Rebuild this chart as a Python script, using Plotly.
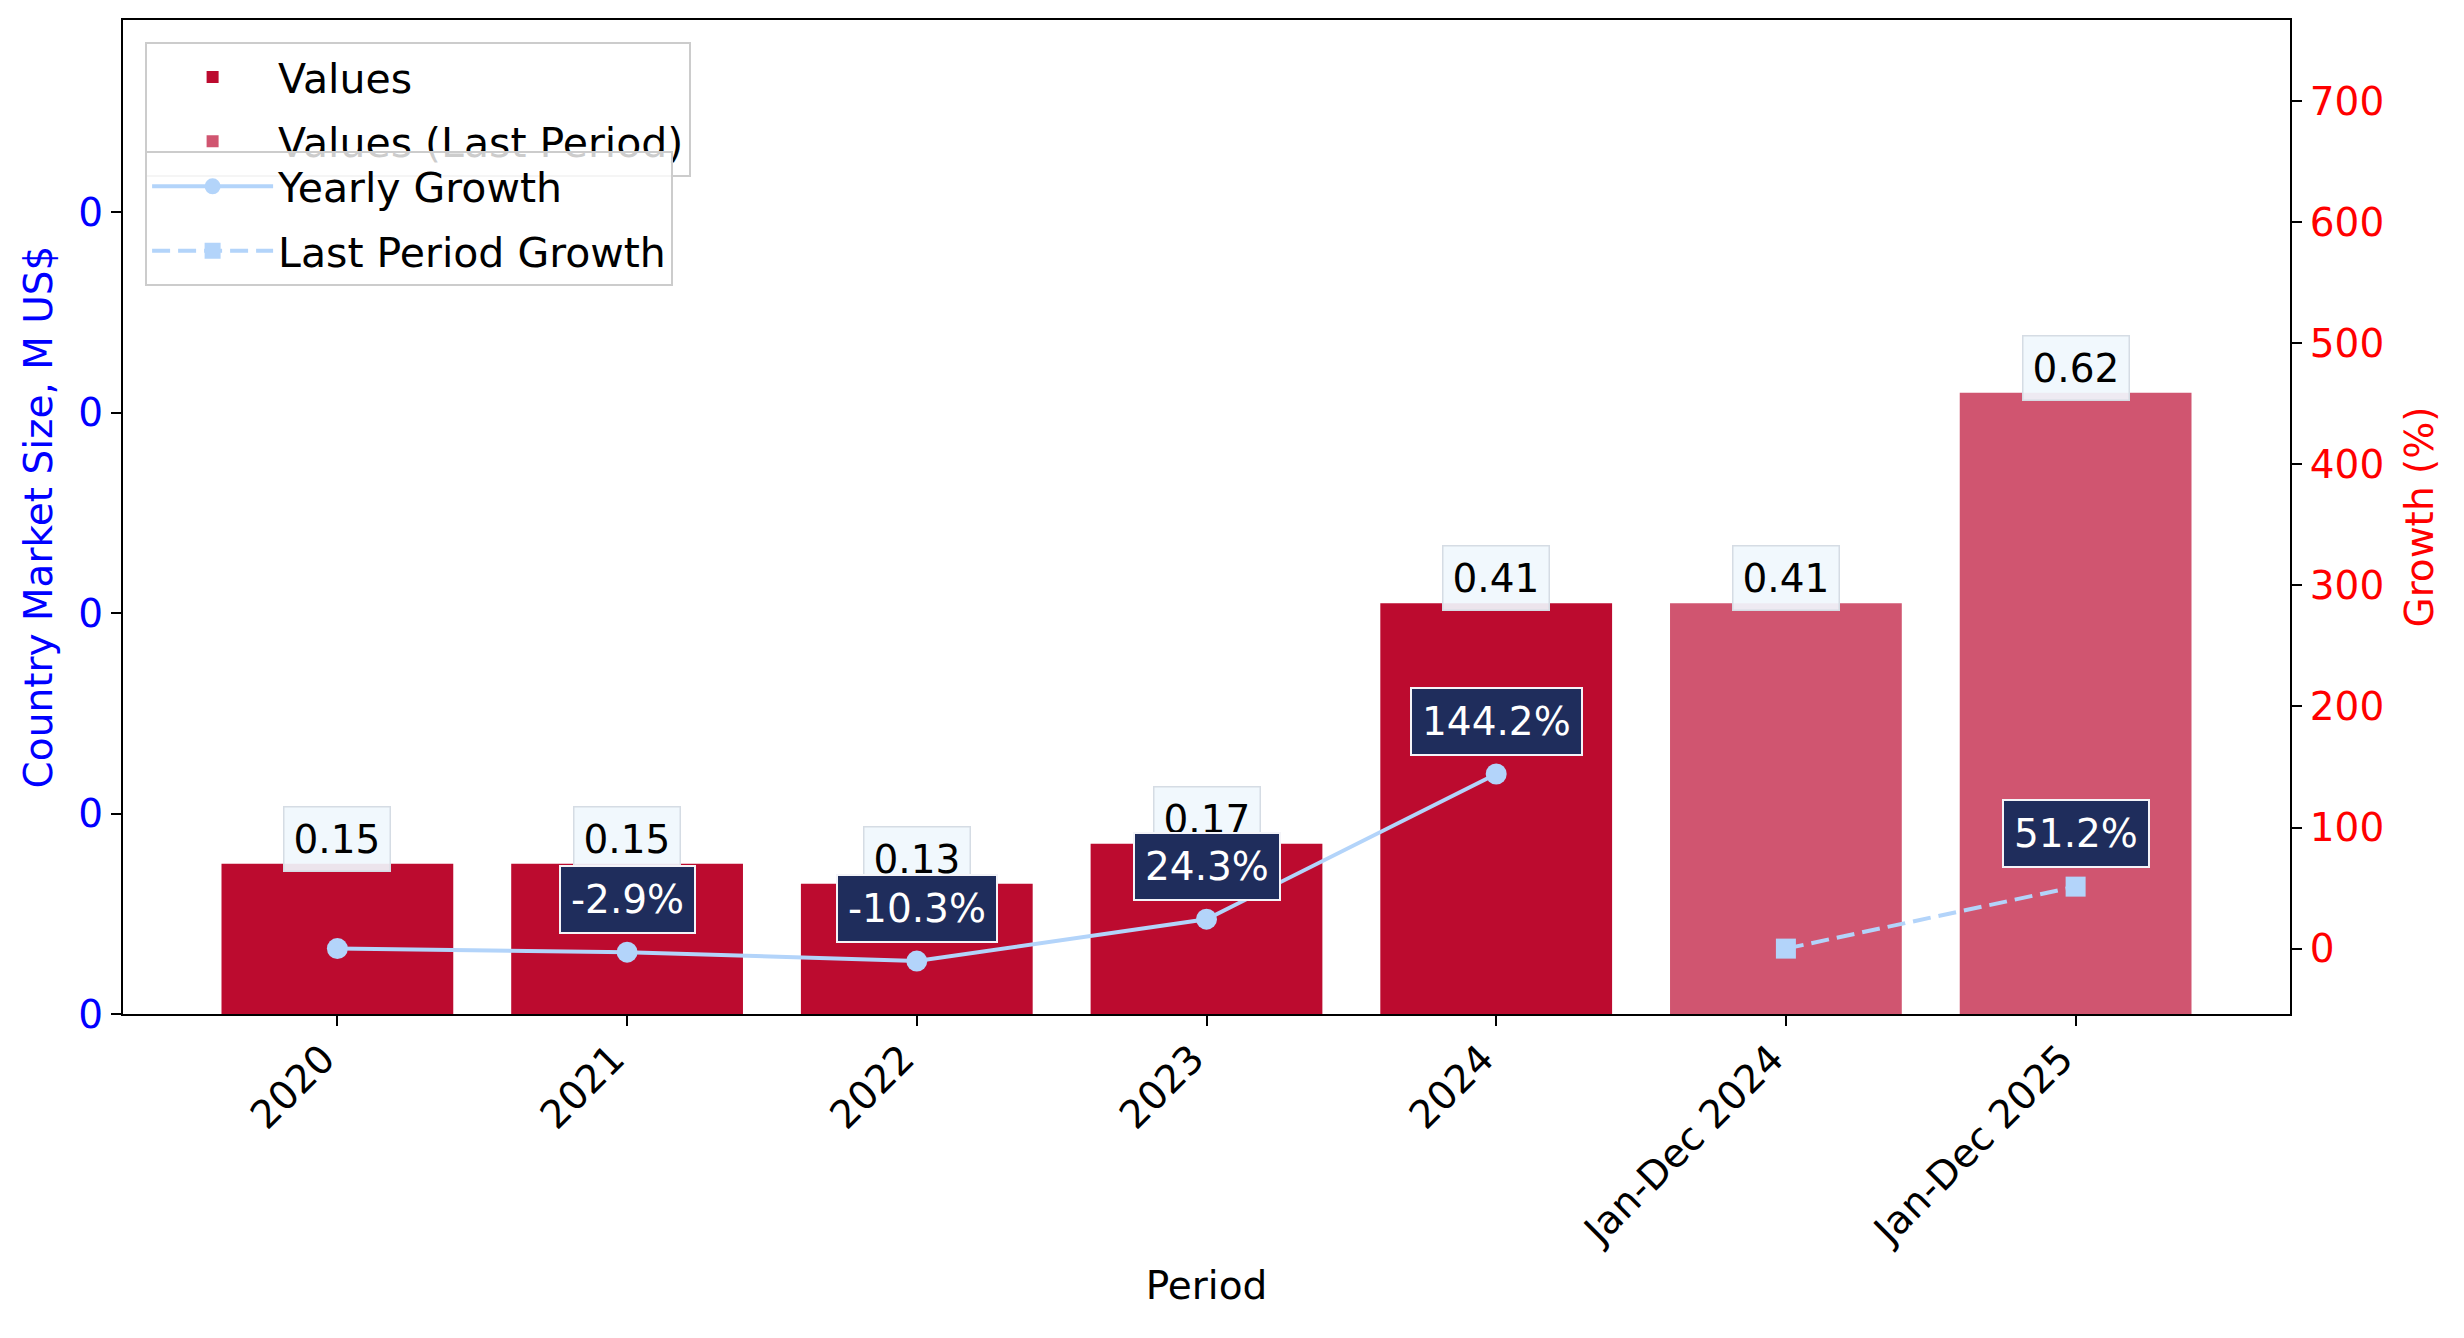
import plotly.graph_objects as go

categories = ["2020", "2021", "2022", "2023", "2024", "Jan-Dec 2024", "Jan-Dec 2025"]
values = [0.15, 0.15, 0.13, 0.17, 0.41, 0.41, 0.62]
is_last_period = [False, False, False, False, False, True, True]
yearly_growth = [0.0, -2.9, -10.3, 24.3, 144.2]
yearly_cats = categories[:5]
last_growth = [0.0, 51.2]
last_cats = categories[5:]
left_ticks = [0, 0.2, 0.4, 0.6, 0.8]
left_ticktext = ["0", "0", "0", "0", "0"]
right_ticks = [0, 100, 200, 300, 400, 500, 600, 700]

BAR = "#BC0B2F"
BAR_LAST = "#D05570"
LINE = "#B3D4FA"
NAVY = "#1F2D5C"
FONT = "DejaVu Sans"
FS = 39
LFS = 41

x_idx = list(range(len(categories)))

fig = go.Figure()

main_x = [i for i, l in zip(x_idx, is_last_period) if not l]
main_v = [v for v, l in zip(values, is_last_period) if not l]
last_x = [i for i, l in zip(x_idx, is_last_period) if l]
last_v = [v for v, l in zip(values, is_last_period) if l]

fig.add_trace(go.Bar(x=main_x, y=main_v, width=0.8, marker_color=BAR,
                     marker_line_width=0, name="Values", legend="legend",
                     legendgroup="a"))
fig.add_trace(go.Bar(x=last_x, y=last_v, width=0.8, marker_color=BAR_LAST,
                     marker_line_width=0, name="Values (Last Period)", legend="legend",
                     legendgroup="b"))

yg_x = [categories.index(c) for c in yearly_cats]
lg_x = [categories.index(c) for c in last_cats]
fig.add_trace(go.Scatter(x=yg_x, y=yearly_growth, yaxis="y2", mode="lines+markers",
                         line=dict(color=LINE, width=4),
                         marker=dict(symbol="circle", size=21, color=LINE),
                         name="Yearly Growth", legend="legend2", legendgroup="c"))
fig.add_trace(go.Scatter(x=lg_x, y=last_growth, yaxis="y2", mode="lines+markers",
                         line=dict(color=LINE, width=4, dash="18px,8px"),
                         marker=dict(symbol="square", size=20, color=LINE),
                         name="Last Period Growth", legend="legend2", legendgroup="d"))

annotations = []
for i, v in zip(x_idx, values):
    annotations.append(dict(x=i, y=v, xref="x", yref="y", text=f"{v:.2f}",
                            showarrow=False, yshift=25, yanchor="middle",
                            font=dict(family=FONT, size=FS, color="black"),
                            bgcolor="rgba(240,247,253,0.92)", bordercolor="#D5DCE4",
                            borderwidth=1.5, borderpad=9))
for xs, gs in ((yg_x, yearly_growth), (lg_x, last_growth)):
    for i, g in zip(xs, gs):
        if g != 0:
            annotations.append(dict(x=i, y=g, xref="x", yref="y2", text=f"{g:.1f}%",
                                    showarrow=False, yshift=53, yanchor="middle",
                                    font=dict(family=FONT, size=FS, color="white"),
                                    bgcolor=NAVY, bordercolor="#F4F4F8",
                                    borderwidth=2, borderpad=10))

fig.update_layout(
    width=2464, height=1338,
    margin=dict(l=123, r=174, t=20, b=324),
    paper_bgcolor="white", plot_bgcolor="white",
    font=dict(family=FONT, size=FS, color="black"),
    barmode="overlay",
    annotations=annotations,
    xaxis=dict(
        tickmode="array", tickvals=x_idx, ticktext=categories, tickangle=-45,
        range=[-0.74, 6.74], showline=True, linecolor="black", linewidth=2,
        mirror=True, ticks="outside", ticklen=10, tickwidth=2, tickcolor="black",
        showgrid=False, zeroline=False, ticklabelshift=-14, ticklabelstandoff=-6,
        title=dict(text="Period", font=dict(size=FS, color="black"), standoff=18),
        tickfont=dict(size=FS, color="black"),
    ),
    yaxis=dict(
        range=[0, 0.992], tickmode="array", tickvals=left_ticks, ticktext=left_ticktext,
        showline=True, linecolor="black", linewidth=2, ticks="outside", ticklen=10,
        tickwidth=2, tickcolor="black", showgrid=False, zeroline=False,
        tickfont=dict(size=FS, color="#0000FF"),
        title=dict(text="Country Market Size, M US$", font=dict(size=FS, color="#0000FF"),
                   standoff=14),
    ),
    yaxis2=dict(
        overlaying="y", side="right", range=[-54, 767], tickmode="array",
        tickvals=right_ticks, showline=True, linecolor="black", linewidth=2,
        ticks="outside", ticklen=10, tickwidth=2, tickcolor="black",
        showgrid=False, zeroline=False,
        tickfont=dict(size=FS, color="#FF0000"),
        title=dict(text="Growth (%)", font=dict(size=FS, color="#FF0000"), standoff=22),
    ),
    legend=dict(x=0.0102, y=0.978, xanchor="left", yanchor="top",
                bgcolor="rgba(255,255,255,0.8)", bordercolor="#CCCCCC", borderwidth=2,
                font=dict(size=LFS, family=FONT), itemwidth=121, tracegroupgap=8),
    legend2=dict(x=0.0102, y=0.868, xanchor="left", yanchor="top",
                 bgcolor="rgba(255,255,255,0.8)", bordercolor="#CCCCCC", borderwidth=2,
                 font=dict(size=LFS, family=FONT), itemwidth=121, tracegroupgap=8),
)

fig.write_html("out.html")
